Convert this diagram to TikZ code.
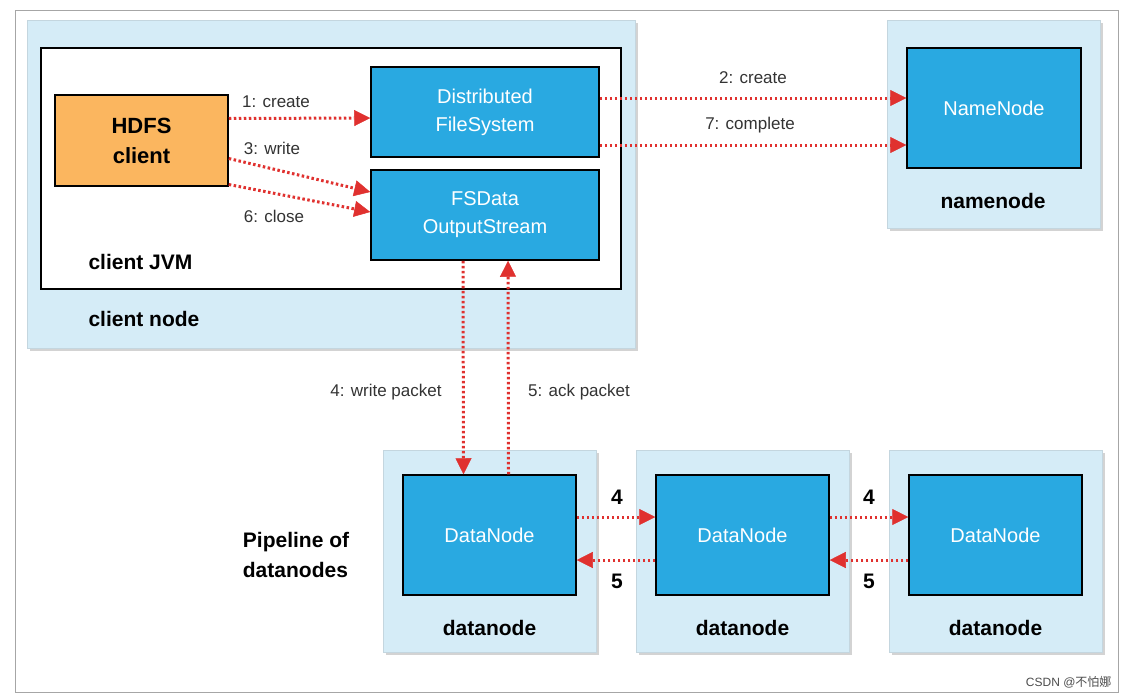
\documentclass[tikz,border=0pt]{standalone}
\usepackage{fontspec}
\setmainfont{Liberation Sans}
\newfontfamily\cjk{Noto Sans CJK SC}
\usetikzlibrary{arrows.meta,shadows}
\definecolor{dblue}{HTML}{29A9E1}
\definecolor{lblue}{HTML}{D5ECF7}
\definecolor{orng}{HTML}{FBB65F}
\definecolor{rd}{HTML}{E0312F}
\begin{document}
\begin{tikzpicture}[x=1pt,y=-1pt,
  light/.style={draw=lblue!80!gray,fill=lblue,drop shadow={shadow xshift=3pt,shadow yshift=-3pt,opacity=0.35}},
  blue/.style={draw=black,line width=1.5pt,fill=dblue,text=white,align=center,font=\fontsize{20}{28}\selectfont},
  lab/.style={font=\fontsize{17}{19}\selectfont,text=black!80},
  blab/.style={font=\bfseries\fontsize{21}{30}\selectfont},
  arr/.style={rd,line width=3pt,dash pattern=on 2.5pt off 2.5pt,-{Triangle[length=16pt,width=16pt,fill=rd,line width=0.5pt]}}]
\useasboundingbox (0,0) rectangle (1127,699);
\draw[gray!70,line width=1pt] (15,10) rectangle (1118,692);
% client node
\node[light,minimum width=608,minimum height=328,anchor=north west] (cn) at (27,20) {};
\node[draw=black,line width=1.5pt,fill=white,minimum width=580,minimum height=241,anchor=north west] (jvm) at (40,47) {};
\node[blab,anchor=west] (cnl) at (85,319) {client node};
\node[blab,anchor=west] (jvml) at (85,262) {client JVM};
\node[draw=black,line width=1.5pt,fill=orng,minimum width=173,minimum height=91,align=center,font=\bfseries\fontsize{22}{30}\selectfont] (hdfs) at (141.5,140.5) {HDFS\\client};
\node[blue,minimum width=228,minimum height=90] (dfs) at (485,112) {Distributed\\FileSystem};
\node[blue,minimum width=228,minimum height=90] (fsd) at (485,215) {FSData\\OutputStream};
% namenode
\node[light,minimum width=213,minimum height=208,anchor=north west] (nnb) at (887,20) {};
\node[blue,minimum width=174,minimum height=120] (nn) at (994,108) {NameNode};
\node[blab] (nnl) at (993,201) {namenode};
% datanodes
\foreach \i/\x in {1/489.5,2/742.5,3/995.5}{
  \node[light,minimum width=213,minimum height=202] (dnb\i) at (\x,551) {};
  \node[blue,minimum width=173,minimum height=120] (dn\i) at (\x,535) {DataNode};
  \node[blab] (dnl\i) at (\x,628) {datanode};
}
\node[blab,align=left] (pipe) at (296,555) {Pipeline of\\datanodes};
% arrows
\draw[arr] ([yshift=22]hdfs.east) -- ([yshift=-6]dfs.west);
\node[lab] (l1) at (276,102) {1: create};
\draw[arr] ([yshift=-18]hdfs.east) -- ([yshift=23]fsd.west);
\node[lab] (l3) at (272,148) {3: write};
\draw[arr] ([yshift=-44]hdfs.east) -- ([yshift=3]fsd.west);
\node[lab] (l6) at (274,216) {6: close};
\draw[arr] ([yshift=14]dfs.east) -- ([yshift=10]nn.west);
\node[lab] (l2) at (753,78) {2: create};
\draw[arr] ([yshift=-33]dfs.east) -- ([yshift=-37]nn.west);
\node[lab] (l7) at (750,125) {7: complete};
\draw[arr] ([xshift=-22]fsd.south) -- ([xshift=-26]dn1.north);
\node[lab] (l4) at (386,392) {4: write packet};
\draw[arr] ([xshift=19]dn1.north) -- ([xshift=23]fsd.south);
\node[lab] (l5) at (579,392) {5: ack packet};
\draw[arr] ([yshift=18]dn1.east) -- ([yshift=18]dn2.west);
\draw[arr] ([yshift=-25]dn2.west) -- ([yshift=-25]dn1.east);
\draw[arr] ([yshift=18]dn2.east) -- ([yshift=18]dn3.west);
\draw[arr] ([yshift=-25]dn3.west) -- ([yshift=-25]dn2.east);
\node[blab] (a4) at (617,497) {4};
\node[blab] (a5) at (617,581) {5};
\node[blab] (b4) at (869,497) {4};
\node[blab] (b5) at (869,581) {5};
\node[font=\fontsize{12}{14}\selectfont,text=black!70,anchor=east] (wm) at (1115,682) {CSDN @{\cjk 不怕娜}};
\end{tikzpicture}
\end{document}
